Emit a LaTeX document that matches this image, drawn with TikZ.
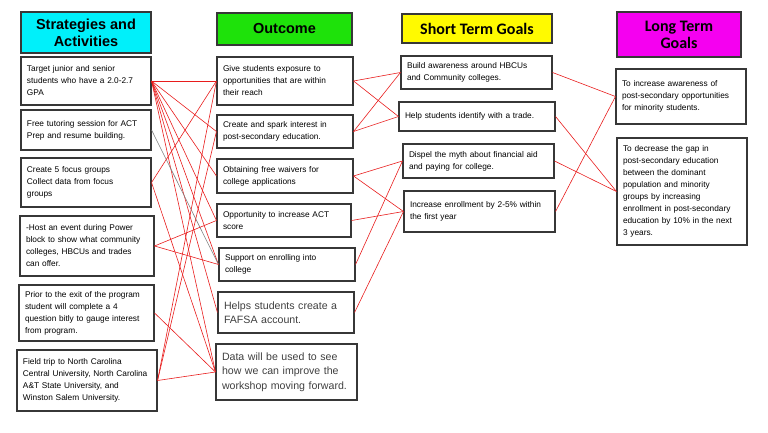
\documentclass[tikz,border=0pt]{standalone}
\usepackage{fontspec}
\setmainfont{Liberation Sans}
\newfontfamily\headfont{Carlito}
\usepackage{tikz}
\usepackage{xcolor}
\definecolor{ColRed}{RGB}{232,28,28}
\definecolor{ColLine}{RGB}{55,55,55}
\definecolor{ColCyan}{RGB}{0,240,250}
\definecolor{ColGreen}{RGB}{30,226,10}
\definecolor{ColYellow}{RGB}{255,250,0}
\definecolor{ColMagenta}{RGB}{245,0,240}
\tikzstyle{HeadBox}=[rectangle,draw=ColLine,line width=1.2pt,inner sep=0pt,align=center,
font=\bfseries\fontsize{14.5}{17}\selectfont]
\tikzstyle{TextBox}=[rectangle,draw=ColLine,line width=1.1pt,fill=white,inner xsep=6pt,inner ysep=0pt,
align=left,font=\fontsize{8.3}{12}\selectfont]
\tikzstyle{BigText}=[font=\fontsize{10.6}{14.5}\selectfont,text=black!75]
\tikzstyle{EdgeRed}=[ColRed,line width=.6pt]
\tikzstyle{EdgeGray}=[gray,line width=.6pt]

\begin{document}
\begin{tikzpicture}[x=1pt,y=-1pt]
        \useasboundingbox(0,0)rectangle(768,433);
        \node[HeadBox,fill=ColCyan,minimum width=130pt,minimum height=41pt](hs)at(86,32.5){Strategies and\\Activities};
        \node[HeadBox,fill=ColGreen,minimum width=135pt,minimum height=32pt](ho)at(284.5,29){Outcome};
        \node[HeadBox,fill=ColYellow,minimum width=150pt,minimum height=29pt,font=\headfont\bfseries\fontsize{16}{17}\selectfont](hg)at(477,28.5){Short Term Goals};
        \node[HeadBox,fill=ColMagenta,minimum width=124pt,minimum height=45pt,font=\headfont\bfseries\fontsize{16}{17}\selectfont](hl)at(679,34.5){Long Term\\Goals};

        \node[TextBox,text width=118pt,minimum height=48pt](s1)at(86,81){Target junior and senior\\students who have a 2.0-2.7\\GPA};
        \node[TextBox,text width=118pt,minimum height=40pt](s2)at(86,130){Free tutoring session for ACT\\Prep and resume building.};
        \node[TextBox,text width=118pt,minimum height=49pt](s3)at(86,182.5){Create 5 focus groups\\Collect data from focus\\groups};
        \node[TextBox,text width=122pt,minimum height=60pt](s4)at(87,246){-Host an event during Power\\block to show what community\\colleges, HBCUs and trades\\can offer.};
        \node[TextBox,text width=123pt,minimum height=56pt](s5)at(86.5,313){Prior to the exit of the program\\student will complete a 4\\question bitly to gauge interest\\from program.};
        \node[TextBox,text width=128pt,minimum height=61pt](s6)at(87,380.5){Field trip to North Carolina\\Central University, North Carolina\\A\&T State University, and\\Winston Salem University.};

        \node[TextBox,text width=124pt,minimum height=48pt](o1)at(285,81){Give students exposure to\\opportunities that are within\\their reach};
        \node[TextBox,text width=124pt,minimum height=33pt](o2)at(285,131.5){Create and spark interest in\\post-secondary education.};
        \node[TextBox,text width=124pt,minimum height=34pt](o3)at(285,176){Obtaining free waivers for\\college applications};
        \node[TextBox,text width=122pt,minimum height=33pt](o4)at(284,220.5){Opportunity to increase ACT\\score};
        \node[TextBox,text width=124pt,minimum height=33pt](o5)at(287,264.5){Support on enrolling into\\college};
        \node[TextBox,BigText,text width=124pt,minimum height=41pt](o6)at(286,312.5){Helps students create a\\FAFSA account.};
        \node[TextBox,BigText,text width=129pt,minimum height=56pt](o7)at(286.5,372){Data will be used to see\\how we can improve the\\workshop moving forward.};

        \node[TextBox,text width=139pt,minimum height=33pt](g1)at(476.5,72.5){Build awareness around HBCUs\\and Community colleges.};
        \node[TextBox,text width=144pt,minimum height=29pt](g2)at(477,116.5){Help students identify with a trade.};
        \node[TextBox,text width=139pt,minimum height=34pt](g3)at(478.5,161){Dispel the myth about financial aid\\and paying for college.};
        \node[TextBox,text width=139pt,minimum height=41pt](g4)at(479.5,211.5){Increase enrollment by 2-5\% within\\the first year};

        \node[TextBox,text width=118pt,minimum height=55pt](l1)at(681,96.5){To increase awareness of\\post-secondary opportunities\\for minority students.\\[4pt]};
        \node[TextBox,text width=118pt,minimum height=107pt](l2)at(682,191.5){To decrease the gap in\\post-secondary education\\between the dominant\\population and minority\\groups by increasing\\enrollment in post-secondary\\education by 10\% in the next\\3 years.};

        \draw[EdgeRed](s1.east)--(o1.west);
        \draw[EdgeRed](s1.east)--(o2.west);
        \draw[EdgeRed](s1.east)--(o3.west);
        \draw[EdgeRed](s1.east)--(o4.west);
        \draw[EdgeRed](s1.east)--(o5.west);
        \draw[EdgeRed](s1.east)--(o6.west);
        \draw[EdgeRed](s1.east)--(o7.west);
        \draw[EdgeGray](s2.east)--(o5.west);
        \draw[EdgeRed](s3.east)--(o1.west);
        \draw[EdgeRed](s3.east)--(o7.west);
        \draw[EdgeRed](s4.east)--(o4.west);
        \draw[EdgeRed](s4.east)--(o5.west);
        \draw[EdgeRed](s5.east)--(o7.west);
        \draw[EdgeRed](s6.east)--(o1.west);
        \draw[EdgeRed](s6.east)--(o2.west);
        \draw[EdgeRed](s6.east)--(o7.west);

        \draw[EdgeRed](o1.east)--(g1.west);
        \draw[EdgeRed](o1.east)--(g2.west);
        \draw[EdgeRed](o2.east)--(g1.west);
        \draw[EdgeRed](o2.east)--(g2.west);
        \draw[EdgeRed](o3.east)--(g3.west);
        \draw[EdgeRed](o3.east)--(g4.west);
        \draw[EdgeRed](o4.east)--(g4.west);
        \draw[EdgeRed](o5.east)--(g3.west);
        \draw[EdgeRed](o6.east)--(g4.west);

        \draw[EdgeRed](g1.east)--(l1.west);
        \draw[EdgeRed](g2.east)--(l2.west);
        \draw[EdgeRed](g3.east)--(l2.west);
        \draw[EdgeRed](g4.east)--(l1.west);
    \end{tikzpicture}
\end{document}
